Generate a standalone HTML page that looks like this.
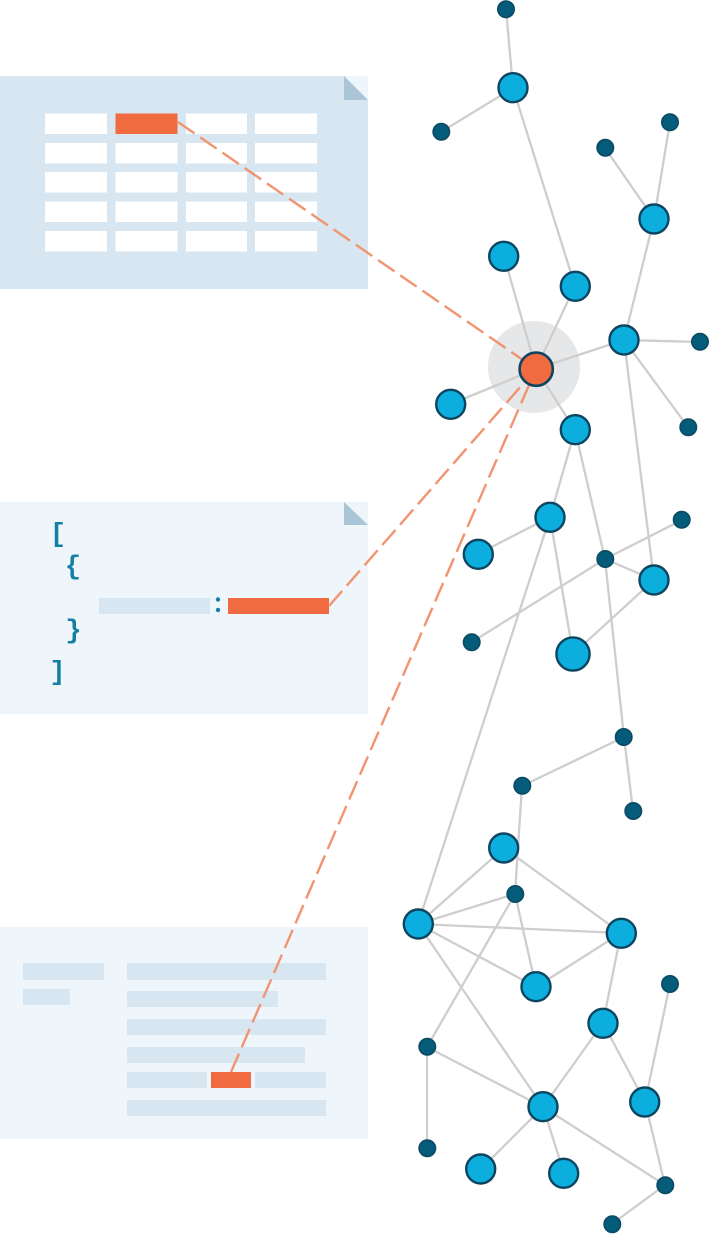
<!DOCTYPE html>
<html>
<head>
<meta charset="utf-8">
<style>
  html,body{margin:0;padding:0;background:#ffffff;}
  body{width:710px;height:1234px;overflow:hidden;}
  svg{display:block;}
</style>
</head>
<body>
<svg width="710" height="1234" viewBox="0 0 710 1234" xmlns="http://www.w3.org/2000/svg">
  <rect x="0" y="76" width="368" height="213" fill="#d7e6f0"/>
  <path d="M344 76 L368 76 L368 100 Z" fill="#eef6fb"/>
  <path d="M344 76 L344 100 L368 100 Z" fill="#a9c5d6"/>
  <g fill="#ffffff">
    <rect x="45" y="113.5" width="62" height="20.5"/>
    <rect x="186" y="113.5" width="61" height="20.5"/>
    <rect x="255" y="113.5" width="62" height="20.5"/>
    <rect x="45" y="143" width="62" height="20.5"/>
    <rect x="115.5" y="143" width="62" height="20.5"/>
    <rect x="186" y="143" width="61" height="20.5"/>
    <rect x="255" y="143" width="62" height="20.5"/>
    <rect x="45" y="172" width="62" height="20.5"/>
    <rect x="115.5" y="172" width="62" height="20.5"/>
    <rect x="186" y="172" width="61" height="20.5"/>
    <rect x="255" y="172" width="62" height="20.5"/>
    <rect x="45" y="201.5" width="62" height="20.5"/>
    <rect x="115.5" y="201.5" width="62" height="20.5"/>
    <rect x="186" y="201.5" width="61" height="20.5"/>
    <rect x="255" y="201.5" width="62" height="20.5"/>
    <rect x="45" y="231" width="62" height="20.5"/>
    <rect x="115.5" y="231" width="62" height="20.5"/>
    <rect x="186" y="231" width="61" height="20.5"/>
    <rect x="255" y="231" width="62" height="20.5"/>
  </g>
  <rect x="115.5" y="113.5" width="62" height="20.5" fill="#f06b3f"/>

  <rect x="0" y="502" width="368" height="212" fill="#eef6fc"/>
  <path d="M344 502 L344 525 L368 525 Z" fill="#a9c5d6"/>
  <g font-family="'Liberation Mono', 'DejaVu Sans Mono', monospace" font-size="27" font-weight="bold" fill="#157fa3" text-anchor="middle">
    <text x="58" y="541.5">[</text>
    <text x="73" y="574">{</text>
    <text x="73.5" y="638">}</text>
    <text x="57.5" y="679.5">]</text>
  </g>
  <rect x="99" y="598" width="111" height="16" fill="#d7e6f0"/>
  <circle cx="218" cy="599.5" r="2.2" fill="#157fa3"/>
  <circle cx="218" cy="610" r="2.2" fill="#157fa3"/>
  <rect x="228" y="598" width="101" height="16" fill="#f06b3f"/>

  <rect x="0" y="927" width="368" height="212" fill="#eef6fc"/>
  <g fill="#d7e6f0">
    <rect x="23" y="963" width="81" height="17"/>
    <rect x="23" y="989" width="47" height="16"/>
    <rect x="127" y="963" width="199" height="17"/>
    <rect x="127" y="991" width="151" height="16"/>
    <rect x="127" y="1019" width="199" height="16"/>
    <rect x="127" y="1047" width="178" height="16"/>
    <rect x="127" y="1072" width="80" height="16"/>
    <rect x="255" y="1072" width="71" height="16"/>
    <rect x="127" y="1100" width="199" height="16"/>
  </g>
  <rect x="211" y="1072" width="40" height="16" fill="#f06b3f"/>

  <circle cx="534" cy="367" r="46" fill="#e6e7e8"/>

  <g stroke="#cecece" stroke-width="2.3" fill="none" stroke-linecap="round">
    <line x1="506" y1="9" x2="513" y2="88"/>
    <line x1="513" y1="88" x2="441" y2="132"/>
    <line x1="513" y1="88" x2="575" y2="286"/>
    <line x1="605" y1="148" x2="654" y2="219"/>
    <line x1="670" y1="122" x2="654" y2="219"/>
    <line x1="654" y1="219" x2="624" y2="340"/>
    <line x1="504" y1="256" x2="536" y2="369"/>
    <line x1="575" y1="286" x2="536" y2="369"/>
    <line x1="536" y1="369" x2="624" y2="340"/>
    <line x1="536" y1="369" x2="451" y2="404"/>
    <line x1="536" y1="369" x2="575" y2="430"/>
    <line x1="624" y1="340" x2="700" y2="342"/>
    <line x1="624" y1="340" x2="688" y2="427"/>
    <line x1="624" y1="340" x2="654" y2="580"/>
    <line x1="575" y1="430" x2="550" y2="517"/>
    <line x1="575" y1="430" x2="605" y2="559"/>
    <line x1="550" y1="517" x2="478" y2="554"/>
    <line x1="550" y1="517" x2="573" y2="654"/>
    <line x1="550" y1="517" x2="418" y2="924"/>
    <line x1="605" y1="559" x2="682" y2="520"/>
    <line x1="605" y1="559" x2="472" y2="642"/>
    <line x1="605" y1="559" x2="654" y2="580"/>
    <line x1="654" y1="580" x2="573" y2="654"/>
    <line x1="605" y1="559" x2="624" y2="737"/>
    <line x1="624" y1="737" x2="522" y2="786"/>
    <line x1="624" y1="737" x2="633" y2="811"/>
    <line x1="522" y1="786" x2="515" y2="894"/>
    <line x1="504" y1="848" x2="418" y2="924"/>
    <line x1="504" y1="848" x2="621" y2="933"/>
    <line x1="515" y1="894" x2="418" y2="924"/>
    <line x1="418" y1="924" x2="621" y2="933"/>
    <line x1="515" y1="894" x2="427" y2="1047"/>
    <line x1="515" y1="894" x2="536" y2="987"/>
    <line x1="418" y1="924" x2="536" y2="987"/>
    <line x1="418" y1="924" x2="543" y2="1107"/>
    <line x1="621" y1="933" x2="536" y2="987"/>
    <line x1="621" y1="933" x2="603" y2="1023"/>
    <line x1="427" y1="1047" x2="543" y2="1107"/>
    <line x1="427" y1="1047" x2="427" y2="1148"/>
    <line x1="603" y1="1023" x2="543" y2="1107"/>
    <line x1="603" y1="1023" x2="645" y2="1102"/>
    <line x1="670" y1="984" x2="645" y2="1102"/>
    <line x1="543" y1="1107" x2="481" y2="1169"/>
    <line x1="543" y1="1107" x2="564" y2="1173"/>
    <line x1="543" y1="1107" x2="665" y2="1185"/>
    <line x1="645" y1="1102" x2="665" y2="1185"/>
    <line x1="665" y1="1185" x2="612" y2="1224"/>
  </g>

  <g stroke="#f19470" stroke-width="2.4" fill="none" stroke-dasharray="20 7">
    <line x1="178" y1="122" x2="536" y2="369"/>
    <line x1="329" y1="606" x2="536" y2="369"/>
    <line x1="231" y1="1072" x2="536" y2="369"/>
  </g>

  <g fill="#045c7a" stroke="#0b4a62" stroke-width="1.6">
    <circle cx="506" cy="9.3" r="8.2"/>
    <circle cx="441.3" cy="131.7" r="8.2"/>
    <circle cx="605.3" cy="147.7" r="8.2"/>
    <circle cx="670" cy="122.3" r="8.2"/>
    <circle cx="700" cy="341.7" r="8.2"/>
    <circle cx="688.3" cy="427.3" r="8.2"/>
    <circle cx="605.3" cy="559" r="8.2"/>
    <circle cx="681.7" cy="519.7" r="8.2"/>
    <circle cx="471.7" cy="642.3" r="8.2"/>
    <circle cx="623.7" cy="737" r="8.2"/>
    <circle cx="522.3" cy="785.7" r="8.2"/>
    <circle cx="633.3" cy="811" r="8.2"/>
    <circle cx="515.3" cy="894" r="8.2"/>
    <circle cx="670" cy="984" r="8.2"/>
    <circle cx="427.3" cy="1046.7" r="8.2"/>
    <circle cx="427.3" cy="1148.3" r="8.2"/>
    <circle cx="665.3" cy="1185.3" r="8.2"/>
    <circle cx="612.3" cy="1224.3" r="8.2"/>
  </g>

  <g fill="#0caedd" stroke="#0d4560" stroke-width="2.4">
    <circle cx="513" cy="87.7" r="14.5"/>
    <circle cx="654" cy="219" r="14.5"/>
    <circle cx="503.7" cy="256.3" r="14.5"/>
    <circle cx="575.3" cy="286.3" r="14.5"/>
    <circle cx="624" cy="340" r="14.5"/>
    <circle cx="450.7" cy="404.3" r="14.5"/>
    <circle cx="575.3" cy="429.7" r="14.5"/>
    <circle cx="550" cy="517.3" r="14.5"/>
    <circle cx="478.3" cy="554.3" r="14.5"/>
    <circle cx="654" cy="580" r="14.5"/>
    <circle cx="573" cy="654" r="16.6"/>
    <circle cx="503.7" cy="848" r="14.5"/>
    <circle cx="418.3" cy="924" r="14.5"/>
    <circle cx="621.3" cy="933.3" r="14.5"/>
    <circle cx="536" cy="986.7" r="14.5"/>
    <circle cx="603" cy="1023.3" r="14.5"/>
    <circle cx="543" cy="1106.7" r="14.5"/>
    <circle cx="644.7" cy="1102" r="14.5"/>
    <circle cx="480.7" cy="1169" r="14.5"/>
    <circle cx="563.7" cy="1173.3" r="14.5"/>
  </g>

  <circle cx="536.2" cy="369.2" r="16.6" fill="#f06b3f" stroke="#0d4560" stroke-width="2.6"/>
</svg>
</body>
</html>
